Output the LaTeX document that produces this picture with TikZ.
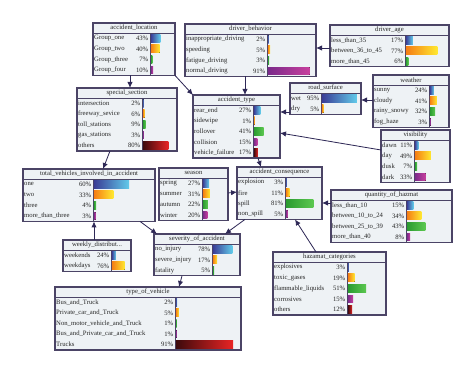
\documentclass[tikz,border=0pt]{standalone}
\usepackage{fontspec}
\setmainfont{Liberation Serif}
\usetikzlibrary{arrows.meta,calc}

\definecolor{boxfill}{HTML}{EEF2F5}
\definecolor{boxline}{HTML}{4B4466}
\definecolor{edgecol}{HTML}{2E2856}
\definecolor{barL1}{HTML}{3A3C96}\definecolor{barR1}{HTML}{62CBEA}
\definecolor{barL2}{HTML}{F57C14}\definecolor{barR2}{HTML}{FFE830}
\definecolor{barL3}{HTML}{2A9A30}\definecolor{barR3}{HTML}{5CC850}
\definecolor{barL4}{HTML}{7A2A8A}\definecolor{barR4}{HTML}{C8409E}
\definecolor{barL5}{HTML}{3C0A0C}\definecolor{barR5}{HTML}{E82424}

\tikzset{%
  >={Latex[width=1.6mm,length=1.8mm]},
  % Specifications for style of the tables:
        cpt/.style = {rectangle, draw=boxline, fill=boxfill, line width=1pt,
                      inner sep=0pt, outer sep=0pt},
    cpttext/.style = {inner sep=0pt, font=\fontsize{5.7}{7}\selectfont, text=black!85},
    cptline/.style = {draw=boxline, line width=0.7pt},
       link/.style = {->, draw=edgecol, line width=0.7pt},
}

% #1 name, #2 left, #3 top, #4 width, #5 bar column, #6 rows, #7 title, #8 states
\newcommand{\cptable}[8]{%
  \pgfmathsetmacro{\cpth}{10+10.6*#6}
  \node[cpt, minimum width=#4*0.03cm, minimum height=\cpth*0.03cm,
        anchor=north west] (#1) at (#2,#3) {};
  \node[cpttext] at ($(#1.north)+(0,5)$) {#7};
  \draw[cptline] ($(#1.north west)+(0,10)$) -- ($(#1.north east)+(0,10)$);
  \draw[cptline] ($(#1.north west)+(#5,10)$) -- ($(#1.south west)+(#5,0)$);
  \foreach \lab/\pc [count=\i] in {#8} {
    \pgfmathsetmacro{\ry}{10+10.6*(\i-0.5)}
    \pgfmathsetmacro{\bw}{max(\pc/100*(#4-#5-3),0.8)}
    \node[cpttext, anchor=west] at ($(#1.north west)+(1,\ry)$) {\lab};
    \node[cpttext, anchor=east] at ($(#1.north west)+(#5-1.5,\ry)$) {\pc\%};
    \fill[left color=barL\i, right color=barR\i]
      ($(#1.north west)+(#5+0.8,\ry-3.9)$) rectangle ++(\bw,7.8);
  }
}

\begin{document}
\begin{tikzpicture}[x=0.03cm, y=-0.03cm]
  \useasboundingbox (0,0) rectangle (474,374);

  % Specification of tables (position, size, etc.)
  \cptable{loc}{93}{23}{82}{57}{4}{accident\_location}
    {Group\_one/43, Group\_two/40, Group\_three/7, Group\_four/10}
  \cptable{beh}{185}{24}{131}{82}{4}{driver\_behavior}
    {inappropriate\_driving/2, speeding/5, fatigue\_driving/3, normal\_driving/91}
  \cptable{age}{330}{25}{119}{75}{3}{driver\_age}
    {less\_than\_35/17, between\_36\_to\_45/77, more\_than\_45/6}
  \cptable{weather}{373}{75}{76}{56}{4}{weather}
    {sunny/24, cloudy/41, rainy\_snowy/32, fog\_haze/3}
  \cptable{road}{290}{83}{71}{31}{2}{road\_surface}
    {wet/95, dry/5}
  \cptable{vis}{381}{130}{69}{33}{4}{visibility}
    {dawn/11, day/49, dusk/7, dark/33}
  \cptable{qty}{331}{190}{121}{75}{4}{quantity\_of\_hazmat}
    {less\_than\_10/15, between\_10\_to\_24/34, between\_25\_to\_39/43, more\_than\_40/8}
  \cptable{haz}{273}{252}{113}{74}{5}{hazamat\_categories}
    {explosives/3, toxic\_gases/19, flammable\_liquids/51, corrosives/15, others/12}
  \cptable{type}{193}{95}{87}{60}{5}{accident\_type}
    {rear\_end/27, sidewipe/1, rollover/41, collision/15, vehicle\_failure/17}
  \cptable{spec}{77}{88}{100}{65}{5}{special\_section}
    {intersection/2, freeway\_sevice/6, toll\_stations/9, gas\_stations/3, others/80}
  \cptable{tot}{23}{169}{132}{70}{4}{total\_vehicles\_involved\_in\_accident}
    {one/60, two/33, three/4, more\_than\_three/3}
  \cptable{season}{159}{168}{69}{43}{4}{season}
    {spring/27, summer/31, autumn/22, winter/20}
  \cptable{cons}{237}{167}{85}{48}{4}{accident\_consequence}
    {explosion/3, fire/11, spill/81, non\_spill/5}
  \cptable{sev}{154}{234}{86}{58}{3}{severity\_of\_accident}
    {no\_injury/78, severe\_injury/17, fatality/5}
  \cptable{week}{63}{240}{68}{48}{2}{weekly\_distribut...}
    {weekends/24, weekdays/76}
  \cptable{veh}{55}{287}{186}{120}{5}{type\_of\_vehicle}
    {Bus\_and\_Truck/2, Private\_car\_and\_Truck/5, Non\_motor\_vehicle\_and\_Truck/1,
     Bus\_and\_Private\_car\_and\_Truck/1, Trucks/91}

  % Specification of links between the tables
  \draw[link] ($(loc.south west)+(37,0)$) -- ($(spec.north west)+(53,0)$);
  \draw[link] (loc.south east) -- (type.north west);
  \draw[link] ($(beh.south west)+(60,0)$) -- ($(type.north west)+(52,0)$);
  \draw[link] ($(age.north west)+(0,23)$) -- ($(beh.north east)+(0,24)$);
  \draw[link] ($(weather.north west)+(0,25)$) -- ($(road.north east)+(0,17)$);
  \draw[link] ($(road.north west)+(0,29)$) -- ($(type.north east)+(0,17)$);
  \draw[link] ($(vis.north west)+(0,20)$) -- ($(type.north east)+(0,38)$);
  \draw[link] ($(spec.south west)+(33,0)$) -- ($(tot.north west)+(80,0)$);
  \draw[link] ($(type.south west)+(65,0)$) -- ($(cons.north west)+(24,0)$);
  \draw[link] ($(season.north east)+(0,25)$) -- ($(cons.north west)+(0,25)$);
  \draw[link] ($(qty.north west)+(0,13)$) -- ($(cons.north east)+(0,36)$);
  \draw[link] ($(haz.north west)+(43,0)$) -- ($(cons.south west)+(58,0)$);
  \draw[link] ($(cons.south west)+(8,0)$) -- ($(sev.north west)+(71,0)$);
  \draw[link] ($(tot.south east)+(-15,0)$) -- ($(sev.north west)+(3,0)$);
  \draw[link] ($(week.north west)+(31,0)$) -- ($(tot.south west)+(71,0)$);
  \draw[link] ($(sev.south west)+(28,0)$) -- ($(veh.north west)+(124,0)$);
\end{tikzpicture}
\end{document}
